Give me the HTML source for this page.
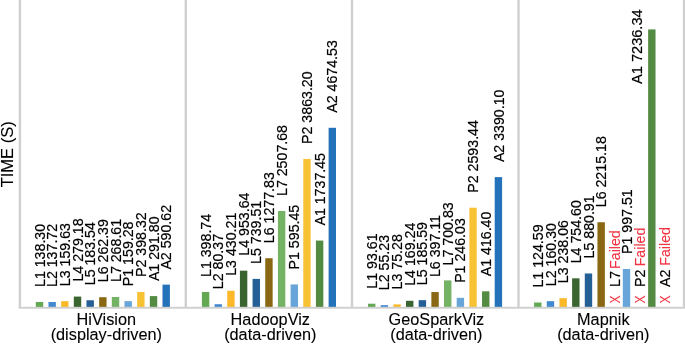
<!DOCTYPE html><html><head><meta charset="utf-8"><style>html,body{margin:0;padding:0;background:#fff;overflow:hidden;}svg{display:block;}text{font-family:"Liberation Sans",Arial,sans-serif;}.v{font-size:14.20px;stroke:#000;stroke-width:0.20px;}.r{font-size:14.20px;fill:#f23442;stroke:#f23442;stroke-width:0.12px;}.h{font-size:16.3px;stroke:#000;stroke-width:0.10px;}</style></head><body>
<svg width="685" height="344" viewBox="0 0 685 344">
<rect x="0" y="0" width="685" height="344" fill="#fff"/>
<rect x="18.70" y="0" width="2.4" height="308" fill="#cfcfcf"/>
<rect x="184.60" y="0" width="2.4" height="308" fill="#cfcfcf"/>
<rect x="350.80" y="0" width="2.4" height="308" fill="#cfcfcf"/>
<rect x="517.30" y="0" width="2.4" height="308" fill="#cfcfcf"/>
<rect x="682.80" y="0" width="2.4" height="308" fill="#cfcfcf"/>
<rect x="35.80" y="301.99" width="7.40" height="5.81" fill="#63a853"/>
<rect x="48.47" y="302.01" width="7.40" height="5.79" fill="#4389d0"/>
<rect x="61.14" y="301.17" width="7.40" height="6.63" fill="#fbb92a"/>
<rect x="73.81" y="296.58" width="7.40" height="11.22" fill="#3b6530"/>
<rect x="86.48" y="300.25" width="7.40" height="7.55" fill="#245f96"/>
<rect x="99.15" y="297.22" width="7.40" height="10.58" fill="#8a6712"/>
<rect x="111.82" y="296.99" width="7.40" height="10.81" fill="#74b264"/>
<rect x="124.49" y="301.18" width="7.40" height="6.62" fill="#68a5d9"/>
<rect x="137.16" y="292.00" width="7.40" height="15.80" fill="#f7c234"/>
<rect x="149.83" y="296.09" width="7.40" height="11.71" fill="#548b43"/>
<rect x="162.50" y="284.62" width="7.40" height="23.18" fill="#2473ba"/>
<rect x="201.90" y="291.99" width="7.40" height="15.81" fill="#63a853"/>
<rect x="214.57" y="304.21" width="7.40" height="3.59" fill="#4389d0"/>
<rect x="227.24" y="290.78" width="7.40" height="17.02" fill="#fbb92a"/>
<rect x="239.91" y="270.68" width="7.40" height="37.12" fill="#3b6530"/>
<rect x="252.58" y="278.90" width="7.40" height="28.90" fill="#245f96"/>
<rect x="265.25" y="258.23" width="7.40" height="49.57" fill="#8a6712"/>
<rect x="277.92" y="211.01" width="7.40" height="96.79" fill="#74b264"/>
<rect x="290.59" y="284.43" width="7.40" height="23.37" fill="#68a5d9"/>
<rect x="303.26" y="158.95" width="7.40" height="148.85" fill="#f7c234"/>
<rect x="315.93" y="240.58" width="7.40" height="67.22" fill="#548b43"/>
<rect x="328.60" y="127.80" width="7.40" height="180.00" fill="#2473ba"/>
<rect x="368.00" y="303.71" width="7.40" height="4.09" fill="#63a853"/>
<rect x="380.67" y="305.18" width="7.40" height="2.62" fill="#4389d0"/>
<rect x="393.34" y="304.41" width="7.40" height="3.39" fill="#fbb92a"/>
<rect x="406.01" y="300.80" width="7.40" height="7.00" fill="#3b6530"/>
<rect x="418.68" y="300.17" width="7.40" height="7.63" fill="#245f96"/>
<rect x="431.35" y="292.05" width="7.40" height="15.75" fill="#8a6712"/>
<rect x="444.02" y="280.39" width="7.40" height="27.41" fill="#74b264"/>
<rect x="456.69" y="297.85" width="7.40" height="9.95" fill="#68a5d9"/>
<rect x="469.36" y="207.71" width="7.40" height="100.09" fill="#f7c234"/>
<rect x="482.03" y="291.31" width="7.40" height="16.49" fill="#548b43"/>
<rect x="494.70" y="177.12" width="7.40" height="130.68" fill="#2473ba"/>
<rect x="534.10" y="302.52" width="7.40" height="5.28" fill="#63a853"/>
<rect x="546.77" y="301.14" width="7.40" height="6.66" fill="#4389d0"/>
<rect x="559.44" y="298.16" width="7.40" height="9.64" fill="#fbb92a"/>
<rect x="572.11" y="278.32" width="7.40" height="29.48" fill="#3b6530"/>
<rect x="584.78" y="273.47" width="7.40" height="34.33" fill="#245f96"/>
<rect x="597.45" y="222.24" width="7.40" height="85.56" fill="#8a6712"/>
<rect x="622.79" y="269.00" width="7.40" height="38.80" fill="#68a5d9"/>
<rect x="648.13" y="29.42" width="7.40" height="278.38" fill="#548b43"/>
<rect x="18.7" y="306.8" width="666.3" height="1.9" fill="#cfcfcf"/>
<text class="v" transform="translate(44.60,286.99) rotate(-90)">L1 138.30</text>
<text class="v" transform="translate(57.27,287.01) rotate(-90)">L2 137.72</text>
<text class="v" transform="translate(69.94,286.17) rotate(-90)">L3 159.63</text>
<text class="v" transform="translate(82.61,281.58) rotate(-90)">L4 279.18</text>
<text class="v" transform="translate(95.28,285.25) rotate(-90)">L5 183.54</text>
<text class="v" transform="translate(107.95,282.22) rotate(-90)">L6 262.39</text>
<text class="v" transform="translate(120.62,281.99) rotate(-90)">L7 268.61</text>
<text class="v" transform="translate(133.29,286.18) rotate(-90)">P1 159.28</text>
<text class="v" transform="translate(145.96,277.00) rotate(-90)">P2 398.32</text>
<text class="v" transform="translate(158.63,281.09) rotate(-90)">A1 291.80</text>
<text class="v" transform="translate(171.30,269.62) rotate(-90)">A2 590.62</text>
<text class="v" transform="translate(210.70,276.99) rotate(-90)">L1 398.74</text>
<text class="v" transform="translate(223.37,289.21) rotate(-90)">L2 80.37</text>
<text class="v" transform="translate(236.04,275.78) rotate(-90)">L3 430.21</text>
<text class="v" transform="translate(248.71,255.68) rotate(-90)">L4 953.64</text>
<text class="v" transform="translate(261.38,263.90) rotate(-90)">L5 739.51</text>
<text class="v" transform="translate(274.05,243.23) rotate(-90)">L6 1277.83</text>
<text class="v" transform="translate(286.72,196.01) rotate(-90)">L7 2507.68</text>
<text class="v" transform="translate(299.39,269.43) rotate(-90)">P1 595.45</text>
<text class="v" transform="translate(312.06,143.95) rotate(-90)">P2 3863.20</text>
<text class="v" transform="translate(324.73,225.58) rotate(-90)">A1 1737.45</text>
<text class="v" transform="translate(337.40,112.80) rotate(-90)">A2 4674.53</text>
<text class="v" transform="translate(376.80,288.71) rotate(-90)">L1 93.61</text>
<text class="v" transform="translate(389.47,290.18) rotate(-90)">L2 55.23</text>
<text class="v" transform="translate(402.14,289.41) rotate(-90)">L3 75.28</text>
<text class="v" transform="translate(414.81,285.80) rotate(-90)">L4 169.24</text>
<text class="v" transform="translate(427.48,285.17) rotate(-90)">L5 185.59</text>
<text class="v" transform="translate(440.15,277.05) rotate(-90)">L6 397.11</text>
<text class="v" transform="translate(452.82,265.39) rotate(-90)">L7 700.83</text>
<text class="v" transform="translate(465.49,282.85) rotate(-90)">P1 246.03</text>
<text class="v" transform="translate(478.16,192.71) rotate(-90)">P2 2593.44</text>
<text class="v" transform="translate(490.83,276.31) rotate(-90)">A1 416.40</text>
<text class="v" transform="translate(503.50,162.12) rotate(-90)">A2 3390.10</text>
<text class="v" transform="translate(542.90,287.52) rotate(-90)">L1 124.59</text>
<text class="v" transform="translate(555.57,286.14) rotate(-90)">L2 160.30</text>
<text class="v" transform="translate(568.24,283.16) rotate(-90)">L3 238.06</text>
<text class="v" transform="translate(580.91,263.32) rotate(-90)">L4 754.60</text>
<text class="v" transform="translate(593.58,258.47) rotate(-90)">L5 880.91</text>
<text class="v" transform="translate(606.25,207.24) rotate(-90)">L6 2215.18</text>
<text class="r" transform="translate(619.52,303.60) rotate(-90) scale(0.85,1)">X</text>
<text class="v" transform="translate(619.52,287.00) rotate(-90)">L7</text>
<text class="r" transform="translate(619.52,268.90) rotate(-90)">Failed</text>
<text class="v" transform="translate(631.59,254.00) rotate(-90)">P1 997.51</text>
<text class="r" transform="translate(644.86,303.60) rotate(-90) scale(0.85,1)">X</text>
<text class="v" transform="translate(644.86,287.00) rotate(-90)">P2</text>
<text class="r" transform="translate(644.86,266.30) rotate(-90)">Failed</text>
<text class="v" style="font-size:14.6px" transform="translate(642.00,84.00) rotate(-90)">A1 7236.34</text>
<text class="r" transform="translate(670.20,303.60) rotate(-90) scale(0.85,1)">X</text>
<text class="v" transform="translate(670.20,287.00) rotate(-90)">A2</text>
<text class="r" transform="translate(670.20,265.70) rotate(-90)">Failed</text>
<text class="h" style="font-size:16.5px" transform="translate(13,187.3) rotate(-90)">TIME (S)</text>
<text class="h" x="106.30" y="324.8" text-anchor="middle">HiVision</text>
<text class="h" x="106.30" y="339.9" text-anchor="middle">(display-driven)</text>
<text class="h" x="270.30" y="324.8" text-anchor="middle">HadoopViz</text>
<text class="h" x="270.30" y="339.9" text-anchor="middle">(data-driven)</text>
<text class="h" x="436.40" y="324.8" text-anchor="middle">GeoSparkViz</text>
<text class="h" x="436.40" y="339.9" text-anchor="middle">(data-driven)</text>
<text class="h" x="603.30" y="324.8" text-anchor="middle">Mapnik</text>
<text class="h" x="603.30" y="339.9" text-anchor="middle">(data-driven)</text>
</svg></body></html>
